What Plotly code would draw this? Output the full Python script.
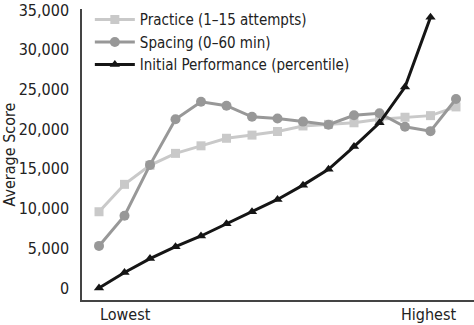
import plotly.graph_objects as go

idx = list(range(15))
practice = [9600, 13050, 15450, 16950, 17900, 18850, 19250, 19700, 20400, 20600, 20800, 21250, 21500, 21700, 22800]
practice_err = [400] * 15
spacing = [5300, 9100, 15500, 21250, 23450, 22950, 21550, 21350, 20950, 20550, 21750, 22000, 20300, 19750, 23800]
spacing_err = [500] * 15
initial = [0, 1950, 3700, 5200, 6550, 8100, 9600, 11150, 12950, 14950, 17800, 20800, 25300, 34100, None]
y_ticks = [0, 5000, 10000, 15000, 20000, 25000, 30000, 35000]
x_labels = ["Lowest", "Highest"]

FONT = "DejaVu Sans Condensed, Roboto, sans-serif"
FS = 15

fig = go.Figure()
fig.add_trace(go.Scatter(
    x=idx, y=practice, name="Practice (1\u201315 attempts)", mode="lines+markers",
    line=dict(color="#c9c9c9", width=3),
    marker=dict(symbol="square", size=9, color="#c9c9c9"),
    error_y=dict(type="data", array=practice_err, color="#c9c9c9", thickness=2, width=0),
))
fig.add_trace(go.Scatter(
    x=idx, y=spacing, name="Spacing (0\u201360 min)", mode="lines+markers",
    line=dict(color="#989898", width=3),
    marker=dict(symbol="circle", size=10, color="#989898"),
    error_y=dict(type="data", array=spacing_err, color="#989898", thickness=2, width=0),
))
fig.add_trace(go.Scatter(
    x=idx, y=initial, name="Initial Performance (percentile)", mode="lines+markers",
    line=dict(color="#151515", width=3),
    marker=dict(symbol="triangle-up", size=9, color="#151515"),
))

fig.add_annotation(x=idx[0], y=0, xref="x", yref="paper", yshift=-3, text=x_labels[0],
                   showarrow=False, xanchor="left", yanchor="top", xshift=-1,
                   font=dict(family=FONT, size=FS + 1, color="#222"))
fig.add_annotation(x=idx[-1], y=0, xref="x", yref="paper", yshift=-3, text=x_labels[1],
                   showarrow=False, xanchor="right", yanchor="top", xshift=2,
                   font=dict(family=FONT, size=FS + 1, color="#222"))

fig.update_layout(
    width=474, height=325,
    margin=dict(l=82, r=0, t=9, b=25),
    paper_bgcolor="white", plot_bgcolor="white",
    font=dict(family=FONT, size=FS, color="#222"),
    showlegend=True,
    legend=dict(x=0.02, y=1.02, xanchor="left", yanchor="top",
                bgcolor="rgba(0,0,0,0)", font=dict(family=FONT, size=FS, color="#222"),
                itemwidth=40, tracegroupgap=0),
    xaxis=dict(range=[-0.667, 14.706], showgrid=False, zeroline=False,
               showticklabels=False, ticks="", showline=True, linecolor="#444", linewidth=1.5),
    yaxis=dict(range=[-1510, 35125], showgrid=False, zeroline=False,
               tickvals=y_ticks, tickformat=",d", ticks="", ticklabelstandoff=8,
               tickfont=dict(family=FONT, size=FS + 1, color="#222"),
               showline=True, linecolor="#444", linewidth=1.5,
               title=dict(text="Average Score", standoff=6, font=dict(family=FONT, size=FS + 1, color="#222"))),
)

fig.write_html("out.html")
